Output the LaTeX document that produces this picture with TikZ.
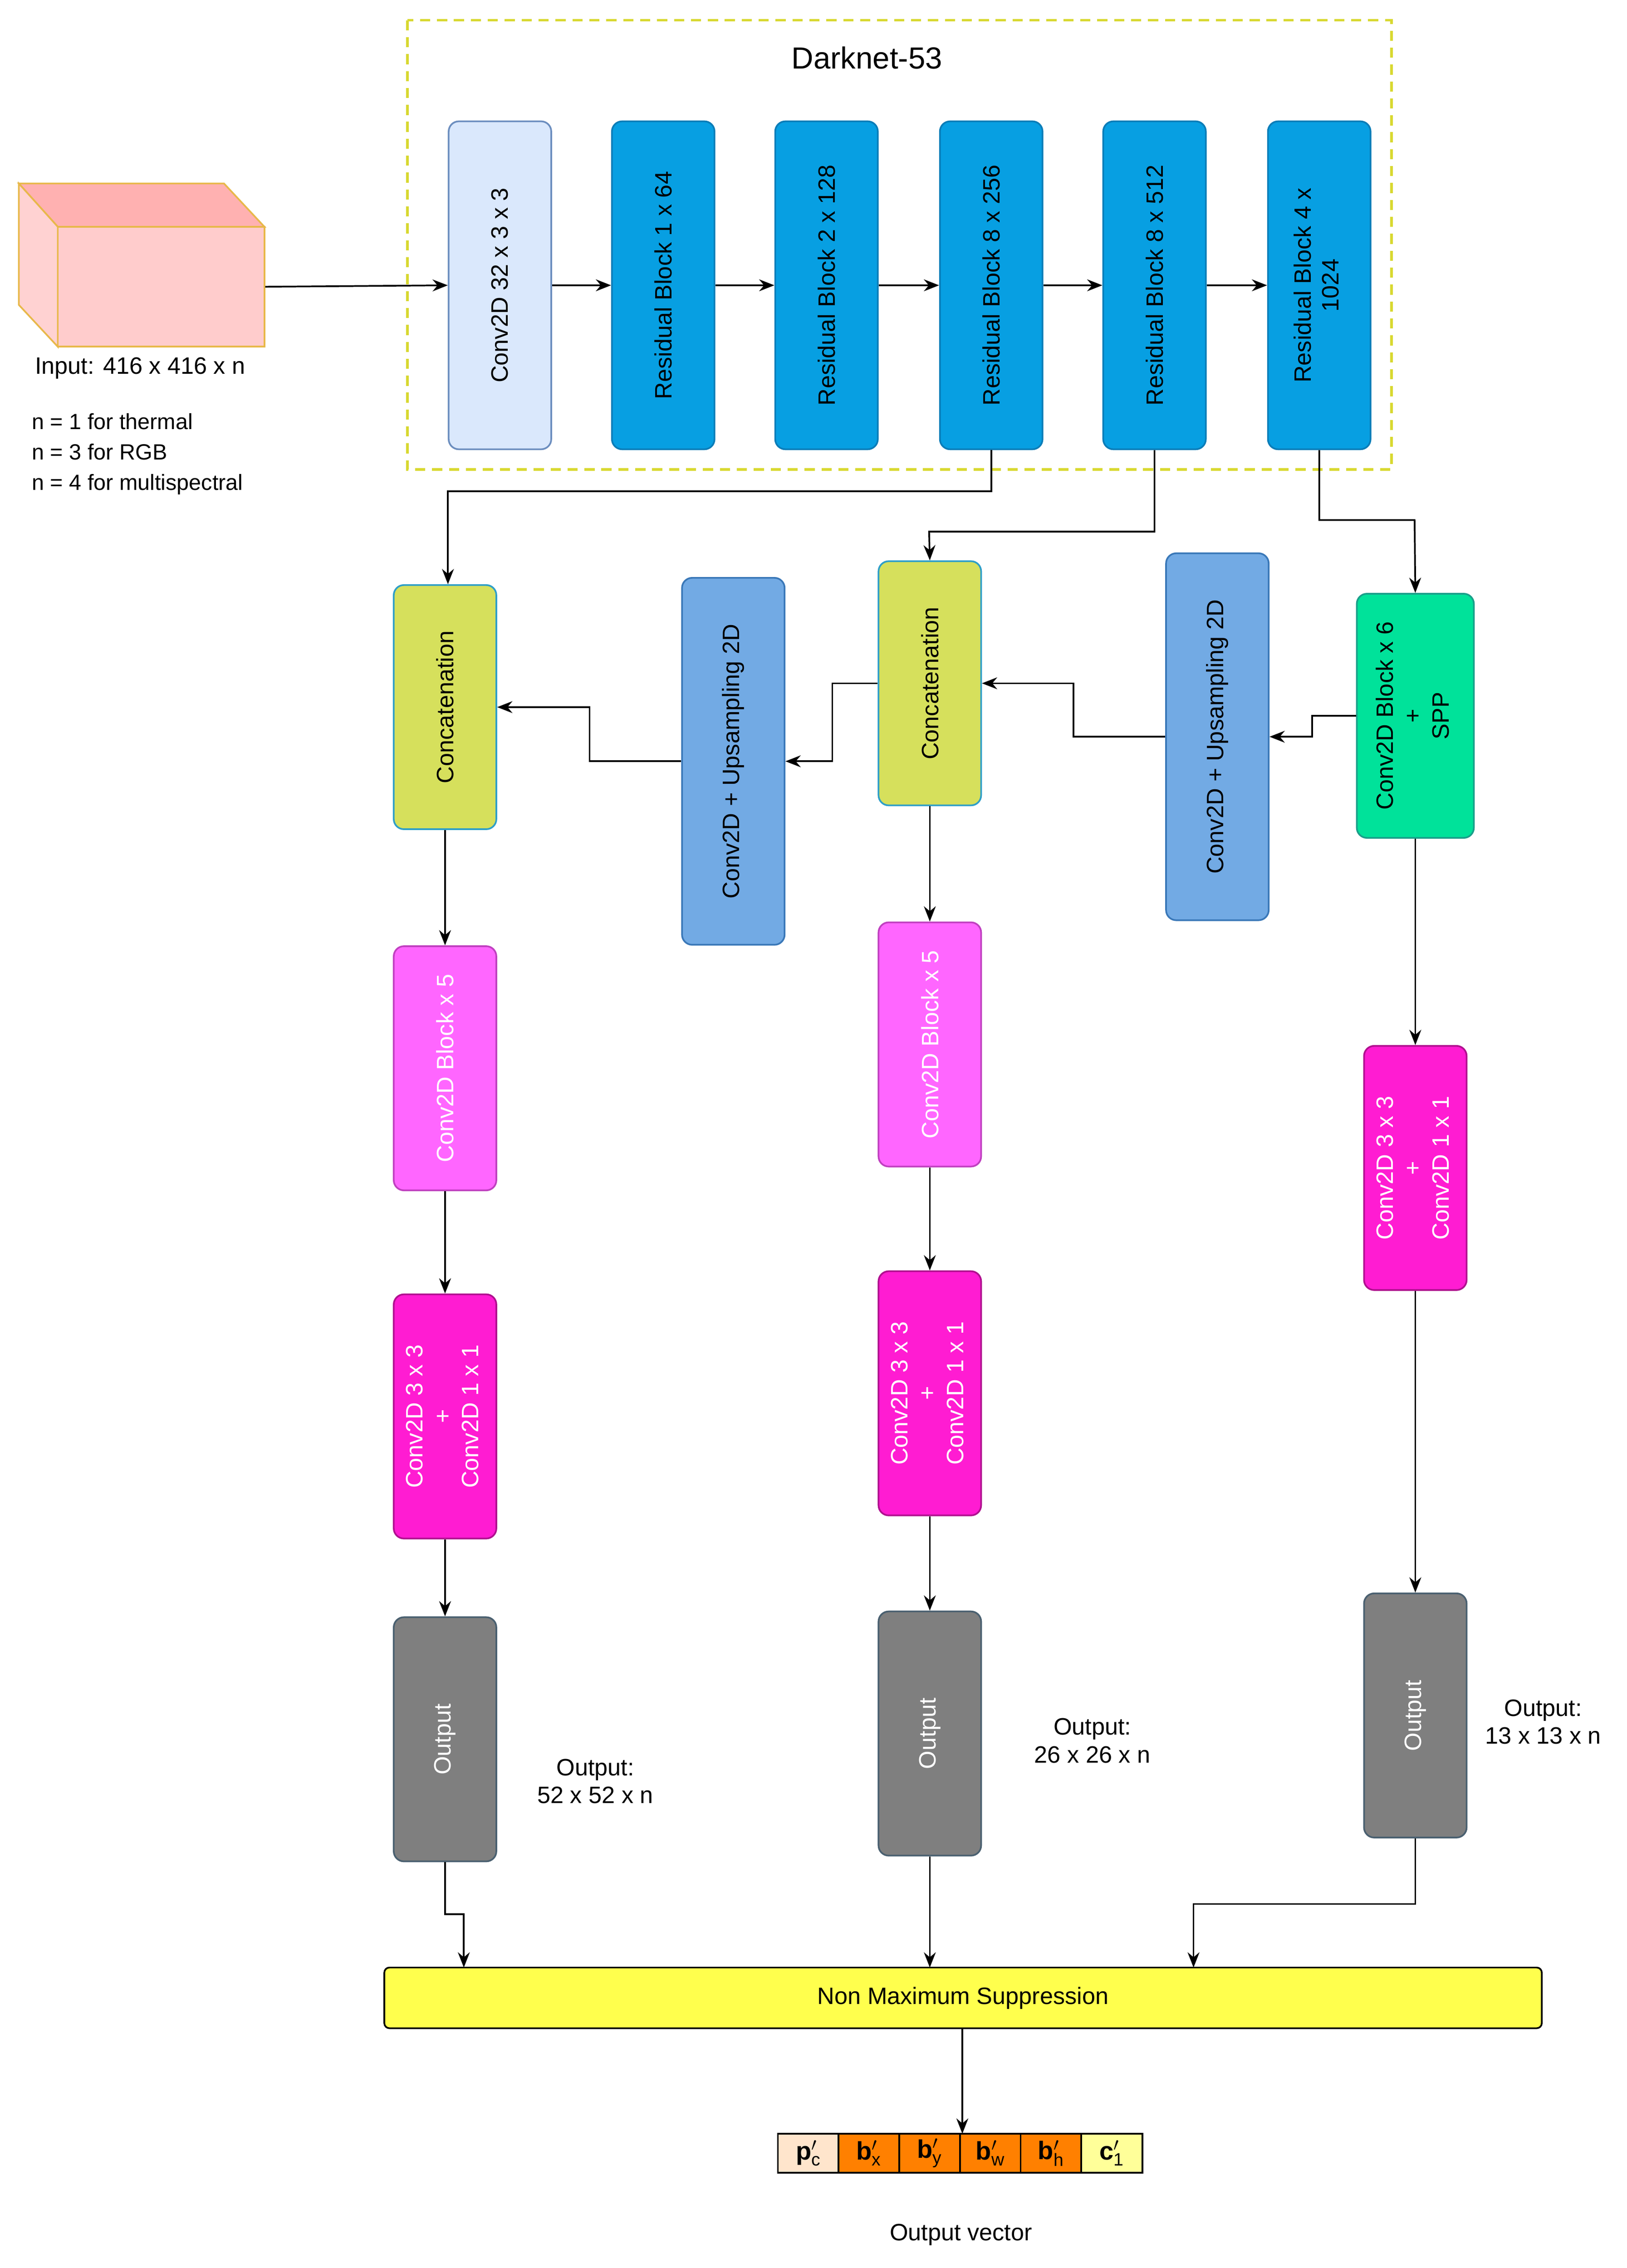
\documentclass[tikz,border=0pt]{standalone}
\usepackage{fontspec}
\setmainfont{Liberation Sans}
\usetikzlibrary{arrows.meta}
\definecolor{lb}{HTML}{DAE8FC}\definecolor{lbs}{HTML}{6C8EBF}
\definecolor{rb}{HTML}{079FE2}\definecolor{rbs}{HTML}{0B7DB8}
\definecolor{cc}{HTML}{D6E05C}\definecolor{ccs}{HTML}{2F9FC8}
\definecolor{up}{HTML}{72AAE4}\definecolor{ups}{HTML}{3A78B8}
\definecolor{spp}{HTML}{00E29A}\definecolor{spps}{HTML}{1A9F8A}
\definecolor{pk}{HTML}{FF66FF}\definecolor{pks}{HTML}{C040C0}
\definecolor{mg}{HTML}{FF1CD2}\definecolor{mgs}{HTML}{B0108F}
\definecolor{gr}{HTML}{7F7F7F}\definecolor{grs}{HTML}{4A6070}
\definecolor{nms}{HTML}{FFFF4D}
\definecolor{dk}{HTML}{D8D830}
\definecolor{cube}{HTML}{FFCCCC}\definecolor{cubes}{HTML}{E8B84A}
\definecolor{pc}{HTML}{FFE5CC}\definecolor{bo}{HTML}{FF8000}\definecolor{cy}{HTML}{FFFF99}
\begin{document}
\begin{tikzpicture}[x=0.03cm,y=-0.03cm,
 blk/.style={draw, line width=1pt, rounded corners=6pt, minimum width=2.13cm, inner sep=0pt, font=\fontsize{14}{16.5}\selectfont, align=center},
 txt/.style={rotate=90, align=center},
 arr/.style={-{Stealth[length=9pt,width=7pt]}, line width=1pt},
 lab/.style={font=\fontsize{14}{16.5}\selectfont, align=center},
 cell/.style={draw, line width=1pt, minimum width=1.27cm, minimum height=0.81cm, inner sep=0pt, font=\fontsize{15}{17}\selectfont\bfseries}]
\useasboundingbox (0,0) rectangle (1126,1570);
% Darknet frame
\draw[dk, line width=1.5pt, dash pattern=on 6pt off 4pt] (282,14) rectangle (963,325);
\node[font=\fontsize{18}{20}\selectfont] (dt) at (600,40) {Darknet-53};
% input cube
\fill[cube!85!red!95!white, draw=cubes, line width=1pt] (13,127) -- (155,127) -- (183,157) -- (40,157) -- cycle;
\fill[cube!70!red!40!white, draw=cubes, line width=1pt] (13,127) -- (40,157) -- (40,240) -- (13,211) -- cycle;
\node[draw=cubes, fill=cube, line width=1pt, minimum width=4.29cm, minimum height=2.49cm, inner sep=0pt] (in) at (111.5,198.5) {};
\node[lab] (inl) at (97,255) {Input: 416 x 416 x n};
\node[lab, align=left, anchor=north west, font=\fontsize{13}{18}\selectfont] (nl) at (18,282) {n = 1 for thermal\\ n = 3 for RGB\\ n = 4 for multispectral};
% top blocks
\tikzset{top/.style={blk, minimum height=6.81cm}}
\node[top, fill=lb, draw=lbs] (c0) at (346,197.5) {\rotatebox{90}{Conv2D 32 x 3 x 3}};
\node[top, fill=rb, draw=rbs] (r1) at (459,197.5) {\rotatebox{90}{Residual Block 1 x 64}};
\node[top, fill=rb, draw=rbs] (r2) at (572,197.5) {\rotatebox{90}{Residual Block 2 x 128}};
\node[top, fill=rb, draw=rbs] (r3) at (686,197.5) {\rotatebox{90}{Residual Block 8 x 256}};
\node[top, fill=rb, draw=rbs] (r4) at (799,197.5) {\rotatebox{90}{Residual Block 8 x 512}};
\node[top, fill=rb, draw=rbs] (r5) at (913,197.5) {\rotatebox{90}{\begin{tabular}{c}Residual Block 4 x\\1024\end{tabular}}};
\draw[arr] (in.east) -- (c0.west);
\draw[arr] (c0) -- (r1); \draw[arr] (r1) -- (r2); \draw[arr] (r2) -- (r3);
\draw[arr] (r3) -- (r4); \draw[arr] (r4) -- (r5);
% second row
\tikzset{mid/.style={blk, minimum height=5.07cm}}
\node[mid, fill=cc, draw=ccs] (cat1) at (308,489.5) {\rotatebox{90}{Concatenation}};
\node[blk, minimum height=7.62cm, fill=up, draw=ups] (up1) at (507.5,527) {\rotatebox{90}{Conv2D + Upsampling 2D}};
\node[mid, fill=cc, draw=ccs] (cat2) at (643.5,473) {\rotatebox{90}{Concatenation}};
\node[blk, minimum height=7.62cm, fill=up, draw=ups] (up2) at (842.5,510) {\rotatebox{90}{Conv2D + Upsampling 2D}};
\node[mid, minimum width=2.43cm, fill=spp, draw=spps] (spp) at (979.5,495.5) {\rotatebox{90}{\begin{tabular}{c}Conv2D Block x 6\\+\\SPP\end{tabular}}};
\node[mid, fill=pk, draw=pks, text=white] (p1) at (308,739.5) {\rotatebox{90}{Conv2D Block x 5}};
\node[mid, fill=pk, draw=pks, text=white] (p2) at (643.5,723) {\rotatebox{90}{Conv2D Block x 5}};
\node[mid, fill=mg, draw=mgs, text=white] (m1) at (308,980.5) {\rotatebox{90}{\begin{tabular}{c}Conv2D 3 x 3\\+\\Conv2D 1 x 1\end{tabular}}};
\node[mid, fill=mg, draw=mgs, text=white] (m2) at (643.5,964.5) {\rotatebox{90}{\begin{tabular}{c}Conv2D 3 x 3\\+\\Conv2D 1 x 1\end{tabular}}};
\node[mid, fill=mg, draw=mgs, text=white] (m3) at (979.5,808.5) {\rotatebox{90}{\begin{tabular}{c}Conv2D 3 x 3\\+\\Conv2D 1 x 1\end{tabular}}};
\node[mid, fill=gr, draw=grs, text=white] (o1) at (308,1204) {\rotatebox{90}{Output}};
\node[mid, fill=gr, draw=grs, text=white] (o2) at (643.5,1200) {\rotatebox{90}{Output}};
\node[mid, fill=gr, draw=grs, text=white] (o3) at (979.5,1187.5) {\rotatebox{90}{Output}};
\node[lab] (ol1) at (412,1233) {Output:\\52 x 52 x n};
\node[lab] (ol2) at (756,1205) {Output:\\26 x 26 x n};
\node[lab] (ol3) at (1068,1192) {Output:\\13 x 13 x n};
\node[draw, fill=nms, line width=1pt, rounded corners=3pt, minimum width=24.03cm, minimum height=1.26cm, inner sep=0pt, font=\fontsize{14}{16}\selectfont] (nms) at (666.5,1383) {Non Maximum Suppression};
% output vector
\node[cell, fill=pc] (v1) at (559.5,1490.5) {p$_\mathrm{c}'$};
\node[cell, fill=bo] (v2) at (601.5,1490.5) {b$_\mathrm{x}'$};
\node[cell, fill=bo] (v3) at (643.5,1490.5) {b$_\mathrm{y}'$};
\node[cell, fill=bo] (v4) at (685.5,1490.5) {b$_\mathrm{w}'$};
\node[cell, fill=bo] (v5) at (727.5,1490.5) {b$_\mathrm{h}'$};
\node[cell, fill=cy] (v6) at (769.5,1490.5) {c$_\mathrm{1}'$};
\node[lab] (ovl) at (665,1547) {Output vector};
% connectors
\draw[arr] (r3.south) |- (310,340) -- (cat1.north -| 310,0);
\draw[arr] (r4.south) |- (643,368) -- (cat2.north);
\draw[arr] (r5.south) |- (979,360) -- (spp.north);
\draw[arr] (spp.west) -- (908,495.5) |- (up2.east);
\draw[arr] (up2.west) -- (743,510) |- (cat2.east);
\draw[arr] (cat2.west) -- (576,473) |- (up1.east);
\draw[arr] (up1.west) -- (408,527) |- (cat1.east);
\draw[arr] (cat1) -- (p1); \draw[arr] (p1) -- (m1); \draw[arr] (m1) -- (o1);
\draw[arr] (cat2) -- (p2); \draw[arr] (p2) -- (m2); \draw[arr] (m2) -- (o2);
\draw[arr] (spp) -- (m3); \draw[arr] (m3) -- (o3);
\draw[arr] (o1.south) |- (321,1325) -- (321,1362);
\draw[arr] (o2.south) -- (643.5,1362);
\draw[arr] (o3.south) |- (826,1318) -- (826,1362);
\draw[arr] (nms.south -| 666,0) -- (666,1477);
\end{tikzpicture}
\end{document}
